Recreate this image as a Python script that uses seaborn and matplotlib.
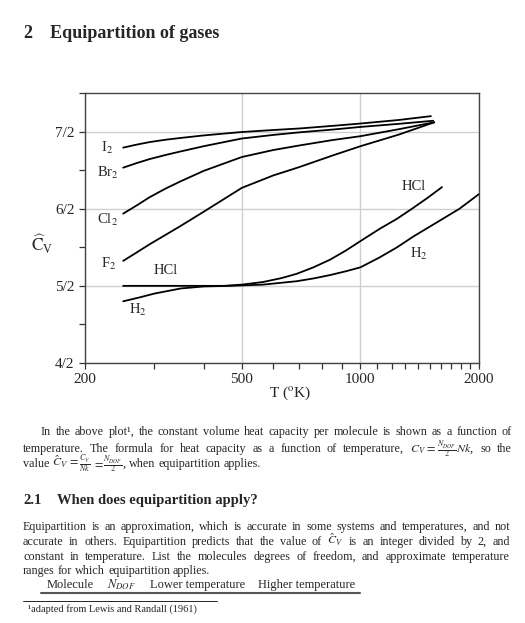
import re
import numpy as np
import pandas as pd
import matplotlib.pyplot as plt
from matplotlib.ticker import NullFormatter
import seaborn as sns

# heat capacity per molecule (T in K, Cv in units of k)
i2_t = [250, 270, 292, 320, 348, 400, 500, 600, 700, 850, 1000, 1250, 1510]
i2_cv = [3.396, 3.415, 3.432, 3.447, 3.458, 3.475, 3.497, 3.51, 3.52, 3.537, 3.552, 3.575, 3.60]
br2_t = [250, 270, 292, 320, 348, 400, 500, 600, 700, 850, 1000, 1250, 1530]
br2_cv = [3.266, 3.295, 3.322, 3.348, 3.37, 3.405, 3.455, 3.478, 3.495, 3.513, 3.53, 3.55, 3.57]
cl2_t = [250, 270, 292, 320, 348, 400, 500, 600, 700, 850, 1000, 1250, 1540]
cl2_cv = [2.968, 3.02, 3.075, 3.13, 3.175, 3.245, 3.335, 3.38, 3.41, 3.445, 3.47, 3.515, 3.56]
f2_t = [250, 270, 292, 320, 348, 400, 500, 600, 700, 850, 1000, 1250, 1540]
f2_cv = [2.662, 2.715, 2.77, 2.83, 2.885, 2.98, 3.135, 3.215, 3.27, 3.345, 3.405, 3.48, 3.56]
hcl_t = [250, 350, 450, 500, 566, 630, 689, 760, 838, 920, 1000, 1120, 1239, 1352, 1480, 1611]
hcl_cv = [2.50, 2.50, 2.50, 2.508, 2.525, 2.55, 2.578, 2.62, 2.67, 2.73, 2.79, 2.87, 2.935, 3.0, 3.07, 3.14]
h2_t = [250, 275, 300, 350, 400, 466, 566, 689, 760, 838, 920, 1000, 1120, 1239, 1363, 1560, 1785, 2000]
h2_cv = [2.40, 2.425, 2.45, 2.483, 2.496, 2.50, 2.508, 2.53, 2.548, 2.57, 2.595, 2.62, 2.685, 2.75, 2.82,
         2.91, 3.0, 3.095]

x_major = [200, 500, 1000, 2000]
x_minor = list(range(300, 1000, 100)) + list(range(1100, 2000, 100))
y_major = [2.0, 2.5, 3.0, 3.5]
y_labels = ['4/2', '5/2', '6/2', '7/2']
y_minor = [2.25, 2.75, 3.25, 3.75]

# curve labels: text, T, Cv
curve_labels = [
    ('I$_2$', 228, 3.396), ('Br$_2$', 228, 3.234), ('Cl$_2$', 228, 2.929),
    ('F$_2$', 230, 2.643), ('HCl', 320, 2.60), ('H$_2$', 273, 2.344),
    ('HCl', 1368, 3.146), ('H$_2$', 1404, 2.705),
]

W, H = 525, 623

# words are split on spaces, '|' glues pieces of one word together
para1 = [
    "In the above plot\u00b9, the constant volume heat capacity per molecule is shown as a function of",
    r"temperature.  The formula for heat capacity as a function of temperature, "
    r"$C_V\,=\,$|$\frac{N_{DOF}}{2}$|$Nk$, so the",
    r"value $\hat{C}_V\,=\,$|$\frac{C_V}{Nk}$|$\,=\,$|$\frac{N_{DOF}}{2}$|, when equipartition applies.",
]
para2 = [
    "Equipartition is an approximation, which is accurate in some systems and temperatures, and not",
    r"accurate in others.  Equipartition predicts that the value of $\hat{C}_V$ is an integer divided by 2, and",
    "constant in temperature.  List the molecules degrees of freedom, and approximate temperature",
    "ranges for which equipartition applies.",
]


def fx(px):
    return px / W


def fy(py):
    return 1 - py / H


def text_line(fig, renderer, line, x0, x1, y, size, justify=True):
    """Draw one line of body text word by word, spreading the words between x0 and x1."""
    words = re.findall(r'(?:\$[^$]*\$|\S)+', line)
    pieces, widths = [], []
    for w in words:
        parts = []
        for p in w.split('|'):
            if not p:
                continue
            fs = size * 0.94 if r'\frac' in p else size
            t = fig.text(0, fy(y), p, fontsize=fs, va='baseline', ha='left')
            parts.append((t, t.get_window_extent(renderer).width))
        pieces.append(parts)
        widths.append(sum(pw for _, pw in parts))
    if justify:
        gap = (x1 - x0 - sum(widths)) / (len(words) - 1)
    else:
        gap = 0.25 * size * 100 / 72
    x = x0
    for parts in pieces:
        for t, pw in parts:
            t.set_x(fx(x))
            x += pw
        x += gap


sns.set_style('ticks')
plt.rcParams['font.family'] = ['Liberation Serif', 'DejaVu Serif']
plt.rcParams['mathtext.fontset'] = 'stix'

fig = plt.figure(figsize=(W / 100, H / 100), dpi=100)
ax = fig.add_axes([fx(85), fy(363), (479 - 85) / W, (363 - 93) / H])
ax.set_xscale('log')

curves = {'I2': (i2_t, i2_cv), 'Br2': (br2_t, br2_cv), 'Cl2': (cl2_t, cl2_cv),
          'F2': (f2_t, f2_cv), 'HCl': (hcl_t, hcl_cv), 'H2': (h2_t, h2_cv)}
df = pd.concat([pd.DataFrame({'T': t, 'Cv': cv, 'molecule': name})
                for name, (t, cv) in curves.items()], ignore_index=True)
sns.lineplot(data=df, x='T', y='Cv', hue='molecule', palette={k: 'black' for k in curves},
             estimator=None, sort=False, legend=False, linewidth=1.3, ax=ax)

for label, t, cv in curve_labels:
    ax.text(t, cv, label, fontsize=10.5, ha='center', va='center')

ax.set_xlim(200, 2000)
ax.set_ylim(2.0, 3.75)
ax.set_xticks(x_major, [str(v) for v in x_major])
ax.set_xticks(x_minor, minor=True)
ax.xaxis.set_minor_formatter(NullFormatter())
ax.set_yticks(y_major, y_labels)
ax.set_yticks(y_minor, minor=True)
ax.grid(True, which='major', color='#cfcfcf', linewidth=1.0)
ax.tick_params(which='both', direction='out', length=4, width=0.9, color='#333333',
               labelsize=11, pad=3.5)
for s in ax.spines.values():
    s.set_color('#444444')
    s.set_linewidth(1.0)

ax.set_xlabel(r'T ($^\mathrm{o}$K)', fontsize=11)
ax.xaxis.set_label_coords((290 - 85) / 394, (363 - 385) / 270)
ax.set_ylabel(r'$\widehat{\mathrm{C}}_\mathrm{V}$', fontsize=12.5, rotation=0, va='center')
ax.yaxis.set_label_coords((42 - 85) / 394, (363 - 244) / 270)

# page text around the plot
fig.text(fx(23), fy(38), '2', fontsize=13, fontweight='bold', va='baseline')
fig.text(fx(50), fy(38), 'Equipartition of gases', fontsize=13, fontweight='bold', va='baseline')

renderer = fig.canvas.get_renderer()
for i, (line, y) in enumerate(zip(para1, [435, 452, 467])):
    x0 = 41 if i == 0 else 23
    text_line(fig, renderer, line, x0, 512, y, 8.7, justify=i < len(para1) - 1)

fig.text(fx(23), fy(504), '2.1', fontsize=10.5, fontweight='bold', va='baseline')
fig.text(fx(57), fy(504), 'When does equipartition apply?', fontsize=10.5, fontweight='bold', va='baseline')

for i, (line, y) in enumerate(zip(para2, [530, 545, 560, 574])):
    text_line(fig, renderer, line, 23, 510, y, 8.7, justify=i < len(para2) - 1)

for head, x in zip(['Molecule', '$N_{DOF}$', 'Lower temperature', 'Higher temperature'],
                   [47, 107, 150, 258]):
    fig.text(fx(x), fy(588), head, fontsize=9, va='baseline')
fig.add_artist(plt.Line2D([fx(41), fx(360)], [fy(593), fy(593)], color='#555555', linewidth=1.5))
fig.add_artist(plt.Line2D([fx(23), fx(217)], [fy(601), fy(601)], color='black', linewidth=0.6))
fig.text(fx(28), fy(612), '\u00b9adapted from Lewis and Randall (1961)', fontsize=7.5, va='baseline')

fig.savefig('out.png', dpi=100, facecolor='white')
